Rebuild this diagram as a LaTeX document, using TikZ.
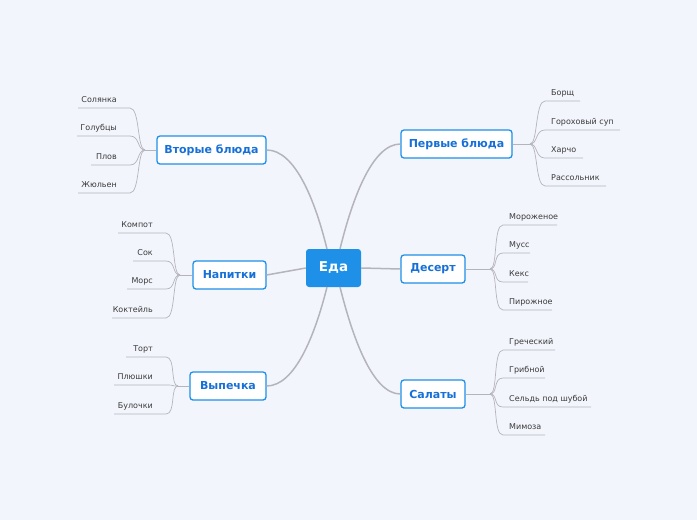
\documentclass[tikz,border=0pt]{standalone}
\usepackage{fontspec}
\usetikzlibrary{calc}
\setmainfont{DejaVu Sans}
\definecolor{bg}{HTML}{F3F5FD}
\definecolor{mblue}{HTML}{1E90E8}
\definecolor{tblue}{HTML}{1670D8}
\definecolor{ln}{HTML}{B4B4BC}
\definecolor{lt}{HTML}{3A3A3A}
\begin{document}
\begin{tikzpicture}[x=1pt,y=-1pt,
  topic/.style={draw=mblue,line width=1.3pt,fill=white,rounded corners=3pt,text=tblue,font=\fontsize{11}{13}\selectfont\bfseries,minimum height=28pt,inner xsep=0pt},
  center/.style={fill=mblue,rounded corners=3pt,text=white,font=\fontsize{13.5}{15}\selectfont\bfseries,minimum width=55pt,minimum height=38pt},
  leaf/.style={font=\fontsize{8}{9}\selectfont,text=lt,inner sep=0pt,anchor=base west},
  leafL/.style={leaf,anchor=base east},
  conn/.style={draw=ln,line width=1.5pt},
  thin/.style={draw=ln,line width=0.7pt}]
\fill[bg] (0,0) rectangle (697,520);
\useasboundingbox (0,0) rectangle (697,520);
\node[center] (c) at (333.5,268) {Еда};
\node[topic,minimum width=111pt] (p) at (456.5,144) {Первые блюда};
\node[topic,minimum width=64pt] (d) at (433,269) {Десерт};
\node[topic,minimum width=64pt] (s) at (433,394) {Салаты};
\node[topic,minimum width=109pt] (v) at (211.5,150) {Вторые блюда};
\node[topic,minimum width=73pt] (n) at (229.5,275) {Напитки};
\node[topic,minimum width=76pt] (b) at (228,386) {Выпечка};
% main connectors
\draw[conn] (340,249) .. controls (352,200) and (372,144) .. (p.west);
\draw[conn] (c.east) -- (d.west);
\draw[conn] (340,287) .. controls (352,335) and (372,394) .. (s.west);
\draw[conn] (327,249) .. controls (315,200) and (295,150) .. (v.east);
\draw[conn] (c.west) -- (n.east);
\draw[conn] (327,287) .. controls (315,335) and (295,386) .. (b.east);
% branch points
\coordinate (pb) at (530,144); \coordinate (db) at (490,269); \coordinate (sb) at (490,394);
\coordinate (vb) at (145,150); \coordinate (nb) at (180,275); \coordinate (bb) at (178,386);
\draw[conn,line width=1pt] (p.east) -- (pb);
\draw[conn,line width=1pt] (d.east) -- (db);
\draw[conn,line width=1pt] (s.east) -- (sb);
\draw[conn,line width=1pt] (v.west) -- (vb);
\draw[conn,line width=1pt] (n.west) -- (nb);
\draw[conn,line width=1pt] (b.west) -- (bb);
\newcommand\Rleaf[6]{\coordinate (#6a) at (#2,#4); \coordinate (#6b) at (#3,#4);
 \draw[thin] (#1) .. controls ($(#1)+(8,0)$) and ($(#6a)+(-10,0)$) .. (#6a) -- (#6b);
 \node[leaf] (#6) at ($(#6a)+(6,-6)$) {#5};}
\newcommand\Lleaf[6]{\coordinate (#6a) at (#3,#4); \coordinate (#6b) at (#2,#4);
 \draw[thin] (#1) .. controls ($(#1)+(-8,0)$) and ($(#6a)+(10,0)$) .. (#6a) -- (#6b);
 \node[leafL] (#6) at ($(#6a)+(-13,-6)$) {#5};}
\Rleaf{pb}{545}{580}{101}{Борщ}{p1}
\Rleaf{pb}{545}{620}{130}{Гороховый суп}{p2}
\Rleaf{pb}{545}{583}{158}{Харчо}{p3}
\Rleaf{pb}{545}{606}{186}{Рассольник}{p4}
\Rleaf{db}{503}{557}{225}{Мороженое}{d1}
\Rleaf{db}{503}{530}{253}{Мусс}{d2}
\Rleaf{db}{503}{528}{282}{Кекс}{d3}
\Rleaf{db}{503}{552}{310}{Пирожное}{d4}
\Rleaf{sb}{503}{555}{350}{Греческий}{s1}
\Rleaf{sb}{503}{545}{378}{Грибной}{s2}
\Rleaf{sb}{503}{591}{407}{Сельдь под шубой}{s3}
\Rleaf{sb}{503}{545}{435}{Мимоза}{s4}
\Lleaf{vb}{78}{130}{108}{Солянка}{v1}
\Lleaf{vb}{77}{130}{136}{Голубцы}{v2}
\Lleaf{vb}{91}{130}{165}{Плов}{v3}
\Lleaf{vb}{78}{130}{193}{Жюльен}{v4}
\Lleaf{nb}{118}{166}{233}{Компот}{n1}
\Lleaf{nb}{133}{166}{261}{Сок}{n2}
\Lleaf{nb}{127}{166}{289}{Морс}{n3}
\Lleaf{nb}{112}{166}{318}{Коктейль}{n4}
\Lleaf{bb}{126}{166}{357}{Торт}{b1}
\Lleaf{bb}{114}{166}{385}{Плюшки}{b2}
\Lleaf{bb}{114}{166}{414}{Булочки}{b3}
\end{tikzpicture}
\end{document}
